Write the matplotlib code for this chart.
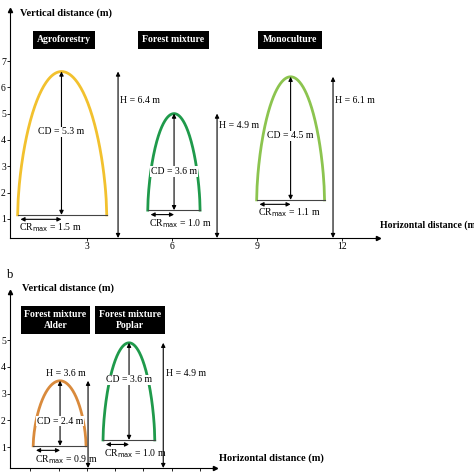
import numpy as np
import matplotlib
matplotlib.use("Agg")
import matplotlib.pyplot as plt

plt.rcParams['font.family'] = ['Liberation Serif', 'DejaVu Serif']

# Panel a data
a_names = ["Agroforestry", "Forest mixture", "Monoculture"]
a_colors = ["#f2c12e", "#1f9a4b", "#8cc44f"]
a_left = [0.55, 5.15, 9.0]
a_right = [3.7, 7.0, 11.4]
a_peak = [2.1, 6.08, 10.2]
a_base = [1.15, 1.33, 1.72]
a_top = [6.6, 5.0, 6.4]
a_harrow = [4.1, 7.6, 11.7]
a_H = ["H = 6.4 m", "H = 4.9 m", "H = 6.1 m"]
a_CD = ["CD = 5.3 m", "CD = 3.6 m", "CD = 4.5 m"]
a_CR = ["1.5 m", "1.0 m", "1.1 m"]
a_xticks = [3, 6, 9, 12]
a_yticks = [1, 2, 3, 4, 5, 6, 7]

# Panel b data
b_names = ["Forest mixture\nAlder", "Forest mixture\nPoplar"]
b_colors = ["#d98a3c", "#1f9a4b"]
b_left = [1.1, 3.57]
b_right = [2.97, 5.4]
b_peak = [2.05, 4.49]
b_base = [1.05, 1.27]
b_top = [3.48, 4.9]
b_harrow = [3.04, 5.7]
b_H = ["H = 3.6 m", "H = 4.9 m"]
b_CD = ["CD = 2.4 m", "CD = 3.6 m"]
b_CR = ["0.9 m", "1.0 m"]
b_yticks = [1, 2, 3, 4, 5]
b_xticks = [1, 2, 3, 4, 5, 6, 7]

W = H = 474
fig = plt.figure(figsize=(4.74, 4.74), dpi=100)

def ax_px(x0, y0, x1, y1):
    return fig.add_axes([x0 / W, 1 - y1 / H, (x1 - x0) / W, (y1 - y0) / H])

def crown(ax, l, r, c, b, t, col):
    tl = np.linspace(0, 1, 80)
    u = 1 - tl
    xl = l + (c - l) * tl
    yl = b + (t - b) * (1 - u ** 2.0) ** 0.6
    xr = c + (r - c) * tl
    yr = b + (t - b) * (1 - tl ** 2.0) ** 0.6
    xs = np.concatenate([xl, xr])
    ys = np.concatenate([yl, yr])
    ax.plot(xs, ys, color=col, lw=2)
    ax.plot([l, r], [b, b], color="#444444", lw=0.8)

def arrow(ax, x0, y0, x1, y1):
    ax.annotate("", xy=(x1, y1), xytext=(x0, y0),
                arrowprops=dict(arrowstyle="<|-|>", color="black", lw=0.8,
                                mutation_scale=6, shrinkA=0, shrinkB=0))

def setup(ax, xlim, ylim, xt, yt, xlabels=True):
    ax.set_xlim(*xlim); ax.set_ylim(*ylim)
    for s in ["top", "right"]:
        ax.spines[s].set_visible(False)
    ax.set_xticks(xt); ax.set_yticks(yt)
    ax.tick_params(labelsize=7, length=2, width=0.6, pad=1)
    if not xlabels:
        ax.set_xticklabels([])
    ax.patch.set_alpha(0)
    ax.plot(1, ylim[0], ">k", transform=ax.get_yaxis_transform(), clip_on=False, ms=3)
    ax.plot(xlim[0], 1, "^k", transform=ax.get_xaxis_transform(), clip_on=False, ms=3)

def panel(ax, cols, L, R, C, B, T, HA, Hs, CDs, CRs, ylo, hlab_y, hlab_ha, cd_frac):
    for i in range(len(cols)):
        crown(ax, L[i], R[i], C[i], B[i], T[i], cols[i])
        arrow(ax, C[i], B[i], C[i], T[i])
        arrow(ax, HA[i], ylo, HA[i], T[i])
        arrow(ax, L[i] + 0.1, B[i] - 0.17, C[i], B[i] - 0.17)
        ax.text(C[i], B[i] + (T[i] - B[i]) * cd_frac[i], CDs[i], ha="center", va="center",
                fontsize=7, bbox=dict(fc="white", ec="none", pad=0.5))
        dx = 0.08 if hlab_ha[i] == "left" else -0.08
        ax.text(HA[i] + dx, hlab_y[i], Hs[i], ha=hlab_ha[i], va="center", fontsize=7)
        ax.text(L[i] + 0.05, B[i] - 0.5, r"CR$_{\mathrm{max}}$ = " + CRs[i], ha="left",
                va="center", fontsize=7)

# Panel a
axa = ax_px(10, 10, 378, 238)
xa = (0.28, 13.29); ya = (0.27, 8.94)
setup(axa, xa, ya, a_xticks, a_yticks)
panel(axa, a_colors, a_left, a_right, a_peak, a_base, a_top, a_harrow,
      a_H, a_CD, a_CR, ya[0], [5.5, 4.55, 5.5], ["left"] * 3, [0.58, 0.4, 0.52])
for x0, x1, nm in [(24, 104, a_names[0]), (133, 214, a_names[1]), (254, 326, a_names[2])]:
    fig.text((x0 + x1) / 2 / W, 1 - 40 / H, nm, ha="center", va="center", color="white",
             fontsize=7, fontweight="bold",
             bbox=dict(fc="black", ec="none", boxstyle="square,pad=0.45"))
fig.text(20 / W, 1 - 13 / H, "Vertical distance (m)", fontsize=7.5, fontweight="bold", va="center")
fig.text(380 / W, 1 - 225 / H, "Horizontal distance (m)", fontsize=7, fontweight="bold", va="center")

# Panel b
axb = ax_px(10, 292, 215, 468)
xb = (0.28, 7.53); yb = (0.22, 6.8)
setup(axb, xb, yb, b_xticks, b_yticks, xlabels=False)
panel(axb, b_colors, b_left, b_right, b_peak, b_base, b_top, b_harrow,
      b_H, b_CD, b_CR, yb[0], [3.75, 3.75], ["right", "left"], [0.38, 0.62])
for x0, x1, nm in [(22, 89, b_names[0]), (97, 163, b_names[1])]:
    fig.text((x0 + x1) / 2 / W, 1 - 320 / H, nm, ha="center", va="center", color="white",
             fontsize=7, fontweight="bold", linespacing=1.2,
             bbox=dict(fc="black", ec="none", boxstyle="square,pad=0.4"))
fig.text(22 / W, 1 - 288 / H, "Vertical distance (m)", fontsize=7.5, fontweight="bold", va="center")
fig.text(219 / W, 1 - 458 / H, "Horizontal distance (m)", fontsize=7.5, fontweight="bold", va="center")
fig.text(7 / W, 1 - 275 / H, "b", fontsize=9, va="center")

fig.savefig("out.png", dpi=100)
